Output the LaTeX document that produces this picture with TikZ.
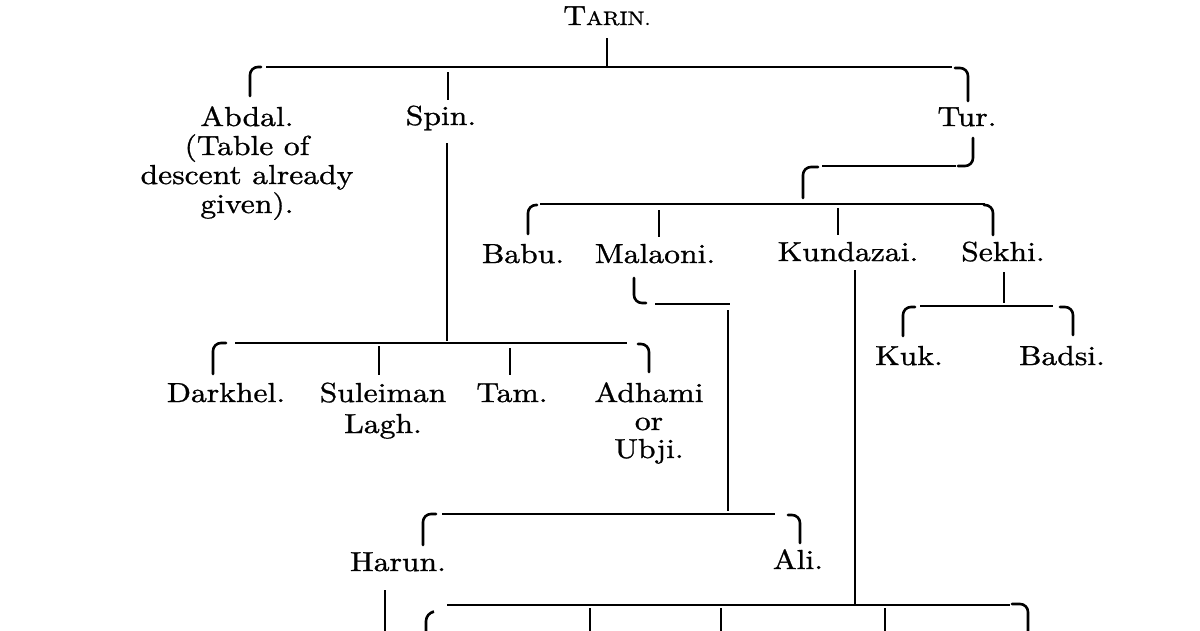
\documentclass[tikz,border=0pt]{standalone}
\usepackage{fontspec}
\setmainfont{lmroman10-regular.otf}[FakeStretch=1.15,FakeBold=1.0]
\begin{document}
\begin{tikzpicture}[x=1pt,y=-1pt,
  lbl/.style={anchor=base, align=center, inner sep=0pt, font=\fontsize{27.5}{30}\selectfont},
  ln/.style={line width=1.3pt},
  hk/.style={line width=2.6pt, line cap=round, rounded corners=8pt}]
\fill[white] (0,0) rectangle (1200,630);
\useasboundingbox (0,0) rectangle (1200,630);
% names
\node[lbl] (tarin) at (607,25) {T{\fontsize{19.5}{20}\selectfont ARIN.}};
\node[lbl, font=\fontsize{27.5}{29}\selectfont] (abdal) at (247,213) {Abdal.\\(Table of\\descent already\\given).};
\node[lbl] (spin) at (441,125) {Spin.};
\node[lbl] (tur) at (967,126) {Tur.};
\node[lbl] (babu) at (523,263) {Babu.};
\node[lbl] (malaoni) at (655,263) {Malaoni.};
\node[lbl] (kundazai) at (848,261) {Kundazai.};
\node[lbl] (sekhi) at (1003,261) {Sekhi.};
\node[lbl] (kuk) at (909,365) {Kuk.};
\node[lbl] (badsi) at (1062,365) {Badsi.};
\node[lbl] (darkhel) at (226,402) {Darkhel.};
\node[lbl, font=\fontsize{27.5}{31}\selectfont] (suleiman) at (383,433) {Suleiman\\Lagh.};
\node[lbl] (tam) at (512,402) {Tam.};
\node[lbl, font=\fontsize{27.5}{28}\selectfont] (adhami) at (649,458) {Adhami\\or\\Ubji.};
\node[lbl] (harun) at (398,571) {Harun.};
\node[lbl] (ali) at (798,569) {Ali.};
% Tarin family
\draw[ln] (607,38) coordinate (tarinStem) -- (607,67) coordinate (tarinJ);
\draw[ln] (266,67) -- (952,67);
\draw[hk] (250,96) -- (250,67) -- (261,67);
\draw[hk] (955,68) -- (968,68) -- (968,101);
\draw[ln] (448,72) -- (448,100);
% Spin family
\draw[ln] (447,143) -- (447,341);
\draw[ln] (235,343) -- (627,343);
\draw[hk] (213,374) -- (213,343) -- (226,343);
\draw[hk] (638,344) -- (649,344) -- (649,372);
\draw[ln] (379,346) -- (379,375);
\draw[ln] (510,348) -- (510,375);
% Tur family
\draw[hk] (973,138) -- (973,166) -- (958,166);
\draw[ln] (822,166) -- (956,166);
\draw[hk] (803,198) -- (803,167) -- (818,167);
\draw[ln] (540,204) -- (985,204);
\draw[hk] (528,234) -- (528,205) -- (537,205);
\draw[hk] (984,205) -- (993,205) -- (993,235);
\draw[ln] (659,210) -- (659,237);
\draw[ln] (838,208) -- (838,235);
% Malaoni
\draw[hk] (634,278) -- (634,303) -- (646,303);
\draw[ln] (655,304) -- (730,304);
\draw[ln] (728,310) -- (728,511);
\draw[ln] (442,514) -- (775,514);
\draw[hk] (423,545) -- (423,514) -- (436,514);
\draw[hk] (788,515) -- (800,515) -- (800,543);
% Kundazai
\draw[ln] (855,270) -- (855,604);
% Sekhi
\draw[ln] (1004,272) -- (1004,303);
\draw[ln] (920,306) -- (1053,306);
\draw[hk] (903,336) -- (903,307) -- (915,307);
\draw[hk] (1060,307) -- (1073,307) -- (1073,335);
% Harun
\draw[ln] (385,590) -- (385,632);
\draw[ln] (447,605) -- (1010,605);
\draw[hk] (426,634) -- (426,613) -- (432,612);
\draw[ln] (590,608) -- (590,632);
\draw[ln] (721,608) -- (721,632);
\draw[ln] (885,608) -- (885,632);
\draw[hk] (1012,604) -- (1028,604) -- (1028,634);
\end{tikzpicture}
\end{document}
